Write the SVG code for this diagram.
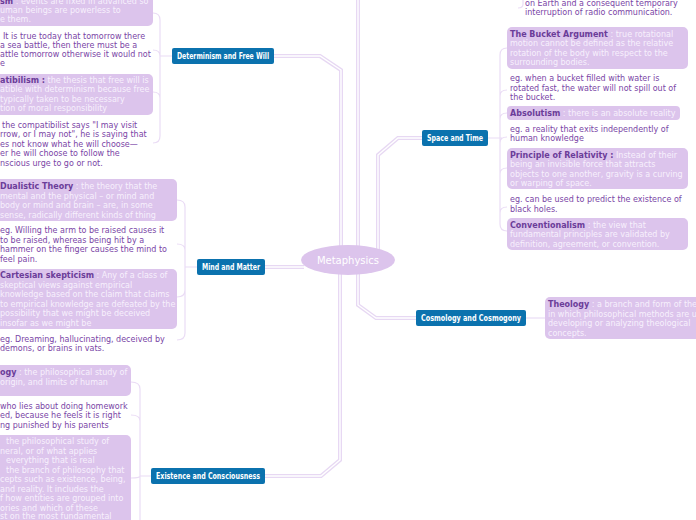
<svg xmlns="http://www.w3.org/2000/svg" width="696" height="520" viewBox="0 0 696 520">
<style>
text{font-family:"DejaVu Sans",Verdana,sans-serif;font-size:8px}
.box{fill:#dcc4ec}
.b{font-weight:bold;fill:#6b3c99}
.d{fill:#f7f0fc}
.p{fill:#7a45a6}
.tab{fill:#0b72ae}
.tt{font-family:"DejaVu Sans Condensed","DejaVu Sans",sans-serif;font-weight:bold;font-size:8px;fill:#fff}
.m{fill:none;stroke:#e7d8f3;stroke-width:4}
.mi{fill:none;stroke:#fff;stroke-width:1.4}
.t{fill:none;stroke:#eadcf5;stroke-width:1.2}
</style>
<rect width="696" height="520" fill="#fff"/>
<g id="connectors">
<path class="m" d="M274 56H320L341 70V248"/><path class="mi" d="M274 56H320L341 70V248"/>
<path class="m" d="M358 0V248"/><path class="mi" d="M358 0V248"/>
<path class="m" d="M422 138H398L378 155V250"/><path class="mi" d="M422 138H398L378 155V250"/>
<path class="m" d="M265 267H304"/><path class="mi" d="M265 267H304"/>
<path class="m" d="M358 272V305L376 318H416"/><path class="mi" d="M358 272V305L376 318H416"/>
<path class="m" d="M265 476H321L340 460V272"/><path class="mi" d="M265 476H321L340 460V272"/>
<path class="t" d="M172 56H160M153 13Q160 13 160 20V136Q160 143 153 143M153 50Q160 50 160 56M153 92Q160 92 160 98"/>
<path class="t" d="M197 267H185M177 200Q185 200 185 207V333Q185 340 177 340M177 244Q185 244 185 250M177 297Q185 297 185 290"/>
<path class="t" d="M151 476H140M131 382Q140 382 140 389V520M131 415Q140 415 140 421M131 478Q140 478 140 476"/>
<path class="t" d="M488 138H503M507 48Q500 48 500 55V224Q500 231 507 231M507 90Q500 90 500 96M507 113Q500 113 500 119M507 137Q500 137 500 143M507 168Q500 168 500 174M507 207Q500 207 500 213"/>
<path class="t" d="M526 318H545"/>
<path class="t" d="M523 0V4Q523 8 518 8"/>
</g>
<g id="center"><ellipse cx="348" cy="260" rx="47" ry="15" fill="#dcc4ec"/><text x="348" y="264" text-anchor="middle" style="font-size:10px;fill:#fff">Metaphysics</text></g>
<g id="det"><rect class="tab" x="172" y="48" width="102" height="16" rx="2"/><text class="tt" x="177" y="59" textLength="92" lengthAdjust="spacingAndGlyphs">Determinism and Free Will</text></g>
<g id="space"><rect class="tab" x="422" y="130" width="66" height="16" rx="2"/><text class="tt" x="427" y="141" textLength="56" lengthAdjust="spacingAndGlyphs">Space and Time</text></g>
<g id="mind"><rect class="tab" x="197" y="259" width="68" height="16" rx="2"/><text class="tt" x="202" y="270" textLength="58" lengthAdjust="spacingAndGlyphs">Mind and Matter</text></g>
<g id="cosmo"><rect class="tab" x="416" y="310" width="110" height="16" rx="2"/><text class="tt" x="421" y="321" textLength="100" lengthAdjust="spacingAndGlyphs">Cosmology and Cosmogony</text></g>
<g id="exist"><rect class="tab" x="151" y="468" width="114" height="16" rx="2"/><text class="tt" x="156" y="479" textLength="104" lengthAdjust="spacingAndGlyphs">Existence and Consciousness</text></g>

<g id="n1"><rect class="box" x="-8" y="-6" width="161" height="32" rx="5"/>
<text x="0" y="4"><tspan class="b">sm</tspan><tspan class="d"> : events are fixed in advanced so</tspan></text>
<text class="d" x="0" y="13">uman beings are powerless to</text><text class="d" x="0" y="22">e them.</text></g>
<g id="n2"><text class="p" x="3" y="39">It is true today that tomorrow there</text><text class="p" x="0" y="48">a sea battle, then there must be a</text><text class="p" x="0" y="57">attle tomorrow otherwise it would not</text><text class="p" x="0" y="66">e</text></g>
<g id="n3"><rect class="box" x="-8" y="74" width="161" height="41" rx="5"/>
<text x="0" y="83"><tspan class="b">atibilism :</tspan><tspan class="d"> the thesis that free will is</tspan></text>
<text class="d" x="0" y="92">atible with determinism because free</text><text class="d" x="0" y="102">typically taken to be necessary</text><text class="d" x="0" y="111">tion of moral responsibility</text></g>
<g id="n4"><text class="p" x="2" y="128">the compatibilist says "I may visit</text><text class="p" x="0" y="137">rrow, or I may not", he is saying that</text><text class="p" x="0" y="147">es not know what he will choose—</text><text class="p" x="0" y="156">er he will choose to follow the</text><text class="p" x="0" y="166">nscious urge to go or not.</text></g>

<g id="n5"><rect class="box" x="-8" y="179" width="185" height="42" rx="5"/>
<text x="0" y="189"><tspan class="b">Dualistic Theory</tspan><tspan class="d"> : the theory that the</tspan></text>
<text class="d" x="0" y="199">mental and the physical – or mind and</text><text class="d" x="0" y="208">body or mind and brain – are, in some</text><text class="d" x="0" y="218">sense, radically different kinds of thing</text></g>
<g id="n6"><text class="p" x="0" y="233">eg. Willing the arm to be raised causes it</text><text class="p" x="0" y="243">to be raised, whereas being hit by a</text><text class="p" x="0" y="252">hammer on the finger causes the mind to</text><text class="p" x="0" y="262">feel pain.</text></g>
<g id="n7"><rect class="box" x="-8" y="269" width="185" height="60" rx="5"/>
<text x="0" y="278"><tspan class="b">Cartesian skepticism</tspan><tspan class="d"> : Any of a class of</tspan></text>
<text class="d" x="0" y="288">skeptical views against empirical</text><text class="d" x="0" y="297">knowledge based on the claim that claims</text><text class="d" x="0" y="307">to empirical knowledge are defeated by the</text><text class="d" x="0" y="316">possibility that we might be deceived</text><text class="d" x="0" y="326">insofar as we might be</text></g>
<g id="n8"><text class="p" x="0" y="342">eg. Dreaming, hallucinating, deceived by</text><text class="p" x="0" y="351">demons, or brains in vats.</text></g>

<g id="n9"><rect class="box" x="-8" y="365" width="139" height="31" rx="5"/>
<text x="0" y="375"><tspan class="b">ogy</tspan><tspan class="d"> : the philosophical study of</tspan></text><text class="d" x="0" y="385">origin, and limits of human</text></g>
<g id="n10"><text class="p" x="0" y="409">who lies about doing homework</text><text class="p" x="0" y="418">ed, because he feels it is right</text><text class="p" x="0" y="428">ng punished by his parents</text></g>
<g id="n11"><rect class="box" x="-8" y="435" width="139" height="95" rx="5"/>
<text class="d" x="6" y="444">the philosophical study of</text><text class="d" x="0" y="454">neral, or of what applies</text><text class="d" x="6" y="463">everything that is real</text><text class="d" x="6" y="473">the branch of philosophy that</text><text class="d" x="0" y="482">cepts such as existence, being,</text><text class="d" x="0" y="492">and reality. It includes the</text><text class="d" x="0" y="501">f how entities are grouped into</text><text class="d" x="0" y="511">ories and which of these</text><text class="d" x="0" y="519">st on the most fundamental</text></g>

<g id="n12"><text class="p" x="525" y="6">on Earth and a consequent temporary</text><text class="p" x="525" y="15">interruption of radio communication.</text></g>
<g id="n13"><rect class="box" x="507" y="27" width="181" height="42" rx="5"/>
<text x="510" y="37"><tspan class="b">The Bucket Argument</tspan><tspan class="d"> : true rotational</tspan></text>
<text class="d" x="510" y="46">motion cannot be defined as the relative</text><text class="d" x="510" y="56">rotation of the body with respect to the</text><text class="d" x="510" y="65">surrounding bodies.</text></g>
<g id="n14"><text class="p" x="510" y="81">eg. when a bucket filled with water is</text><text class="p" x="510" y="91">rotated fast, the water will not spill out of</text><text class="p" x="510" y="100">the bucket.</text></g>
<g id="n15"><rect class="box" x="507" y="106" width="173" height="14" rx="4"/>
<text x="510" y="116"><tspan class="b">Absolutism</tspan><tspan class="d"> : there is an absolute reality</tspan></text></g>
<g id="n16"><text class="p" x="510" y="132">eg. a reality that exits independently of</text><text class="p" x="510" y="141">human knowledge</text></g>
<g id="n17"><rect class="box" x="507" y="148" width="181" height="41" rx="5"/>
<text x="510" y="158"><tspan class="b">Principle of Relativity :</tspan><tspan class="d"> Instead of their</tspan></text>
<text class="d" x="510" y="167">being an invisible force that attracts</text><text class="d" x="510" y="177">objects to one another, gravity is a curving</text><text class="d" x="510" y="186">or warping of space.</text></g>
<g id="n18"><text class="p" x="510" y="202">eg. can be used to predict the existence of</text><text class="p" x="510" y="212">black holes.</text></g>
<g id="n19"><rect class="box" x="507" y="218" width="181" height="32" rx="5"/>
<text x="510" y="228"><tspan class="b">Conventionalism</tspan><tspan class="d"> : the view that</tspan></text>
<text class="d" x="510" y="237">fundamental principles are validated by</text><text class="d" x="510" y="247">definition, agreement, or convention.</text></g>
<g id="n20"><rect class="box" x="545" y="297" width="160" height="42" rx="5"/>
<text x="548" y="307"><tspan class="b">Theology</tspan><tspan class="d"> : a branch and form of the</tspan></text>
<text class="d" x="548" y="317">in which philosophical methods are used</text><text class="d" x="548" y="326">developing or analyzing theological</text><text class="d" x="548" y="336">concepts.</text></g>
</svg>
